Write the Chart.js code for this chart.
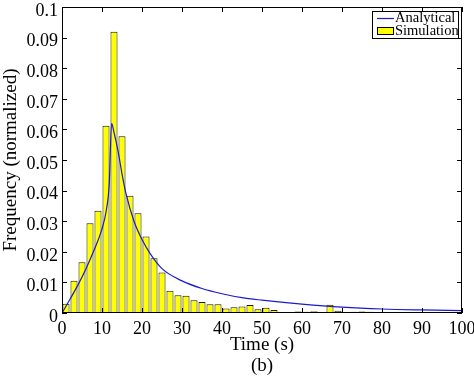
<!DOCTYPE html>
<html>
<head>
    <title>Time histogram</title>
    <style>
        body { margin: 0; background: #fff; }
        #wrap { width: 474px; height: 376px; }
    </style>
</head>
<body>
    <div id="wrap"><canvas id="histChart" width="474" height="376"></canvas></div>

    <script src="https://cdn.jsdelivr.net/npm/chart.js"></script>
    <script>
        // bin centres (s), bins are 2 s wide
        const binCenters = [1, 3, 5, 7, 9, 11, 13, 15, 17, 19, 21, 23, 25, 27, 29, 31, 33, 35, 37, 39,
            41, 43, 45, 47, 49, 51, 53, 55, 57, 59, 61, 63, 65, 67, 69, 71, 73, 75, 77, 79,
            81, 83, 85, 87, 89, 91, 93, 95, 97, 99];
        const simFreq = [0.0030, 0.0105, 0.0166, 0.0293, 0.0334, 0.0612, 0.0919, 0.0578, 0.0383, 0.0326,
            0.0250, 0.0179, 0.0132, 0.0073, 0.0058, 0.0056, 0.0042, 0.0036, 0.0029, 0.0029,
            0.0015, 0.0019, 0.0021, 0.0026, 0.0012, 0.0017, 0.0010, 0.0003, 0.0002, 0.0005,
            0.0004, 0.0006, 0.0003, 0.0027, 0.0007, 0.0003, 0.0004, 0.0005, 0.0004, 0.0002,
            0.0001, 0.0002, 0.0002, 0.0002, 0.0001, 0.0002, 0.0001, 0.0001, 0.0000, 0.0001];

        // analytical curve
        const curveT = [0, 2, 4, 6, 8, 10, 11, 11.8, 12.4, 13, 14, 15, 16, 18, 20, 22, 25, 30, 35, 40,
            45, 50, 60, 70, 80, 90, 100];
        const curveF = [0, 0.0045, 0.0092, 0.0145, 0.0205, 0.0275, 0.0330, 0.0420, 0.0620, 0.0590, 0.0530,
            0.0455, 0.0390, 0.0300, 0.0240, 0.0195, 0.0145, 0.0105, 0.0080, 0.0063,
            0.0050, 0.0042, 0.0029, 0.0019, 0.0013, 0.0010, 0.0008];

        const xTicks = [0, 10, 20, 30, 40, 50, 60, 70, 80, 90, 100];
        const yTicks = [0, 0.01, 0.02, 0.03, 0.04, 0.05, 0.06, 0.07, 0.08, 0.09, 0.1];

        const serif = "'Liberation Serif', 'Times New Roman', serif";

        // matlab style box with inward ticks + legend inside the axes
        const boxPlugin = {
            id: 'boxPlugin',
            afterDraw(chart) {
                const ctx = chart.ctx;
                const a = chart.chartArea;
                const xs = chart.scales.x, ys = chart.scales.y;
                ctx.save();
                ctx.strokeStyle = '#000';
                ctx.lineWidth = 1;
                ctx.strokeRect(a.left + 0.5, a.top + 0.5, a.right - a.left - 1, a.bottom - a.top - 1);
                ctx.beginPath();
                xTicks.forEach(v => {
                    const px = Math.round(xs.getPixelForValue(v)) + 0.5;
                    ctx.moveTo(px, a.bottom); ctx.lineTo(px, a.bottom - 5);
                    ctx.moveTo(px, a.top); ctx.lineTo(px, a.top + 5);
                });
                yTicks.forEach(v => {
                    const py = Math.round(ys.getPixelForValue(v)) + 0.5;
                    ctx.moveTo(a.left, py); ctx.lineTo(a.left + 5, py);
                    ctx.moveTo(a.right, py); ctx.lineTo(a.right - 5, py);
                });
                ctx.stroke();

                // legend
                const lx = 372, ly = 11, lw = 86, lh = 27;
                ctx.fillStyle = '#fff';
                ctx.fillRect(lx, ly, lw, lh);
                ctx.strokeRect(lx + 0.5, ly + 0.5, lw, lh);
                ctx.strokeStyle = chart.data.datasets[0].borderColor;
                ctx.lineWidth = 1.2;
                ctx.beginPath();
                ctx.moveTo(377, 18.5); ctx.lineTo(394, 18.5);
                ctx.stroke();
                ctx.fillStyle = chart.data.datasets[1].backgroundColor;
                ctx.fillRect(377, 27, 17, 8);
                ctx.strokeStyle = '#000';
                ctx.lineWidth = 1;
                ctx.strokeRect(377.5, 27.5, 16, 7);
                ctx.fillStyle = '#000';
                ctx.font = '14.5px ' + serif;
                ctx.textBaseline = 'middle';
                ctx.fillText(chart.data.datasets[0].label, 395, 18);
                ctx.fillText(chart.data.datasets[1].label, 395, 31);
                ctx.restore();
            }
        };

        const ctx = document.getElementById('histChart').getContext('2d');
        const chart = new Chart(ctx, {
            type: 'bar',
            data: {
                datasets: [
                    {
                        type: 'line',
                        label: 'Analytical',
                        data: curveT.map((t, i) => ({ x: t, y: curveF[i] })),
                        borderColor: '#1a1ad0',
                        borderWidth: 1.2,
                        pointRadius: 0,
                        cubicInterpolationMode: 'monotone',
                        order: 0
                    },
                    {
                        label: 'Simulation',
                        data: binCenters.map((c, i) => ({ x: c, y: simFreq[i] })),
                        backgroundColor: '#ffff00',
                        borderColor: '#1a1a00',
                        borderWidth: 1,
                        barPercentage: 0.88,
                        categoryPercentage: 1,
                        order: 1
                    }
                ]
            },
            options: {
                responsive: false,
                animation: false,
                layout: { padding: { left: 0, right: 12, top: 7, bottom: 0 } },
                plugins: { legend: { display: false }, tooltip: { enabled: false } },
                scales: {
                    x: {
                        type: 'linear',
                        min: 0, max: 100,
                        offset: false,
                        grid: { drawOnChartArea: false, drawTicks: false },
                        border: { display: false },
                        afterBuildTicks(s) { s.ticks = xTicks.map(v => ({ value: v })); },
                        afterFit(s) { s.height = 63; s.paddingLeft = 0; s.paddingRight = 0; },
                        ticks: { color: '#000', padding: 5, maxRotation: 0, autoSkip: false,
                            font: { family: serif, size: 18 } },
                        title: {
                            display: true,
                            text: ['Time (s)', '(b)'],
                            color: '#000',
                            padding: { top: 0, bottom: 0 },
                            font: { family: serif, size: 19, lineHeight: 1.1 }
                        }
                    },
                    y: {
                        min: 0, max: 0.1,
                        grid: { drawOnChartArea: false, drawTicks: false },
                        border: { display: false },
                        afterBuildTicks(s) { s.ticks = yTicks.map(v => ({ value: v })); },
                        afterFit(s) { s.width = 62; s.paddingTop = 0; s.paddingBottom = 0; },
                        ticks: {
                            color: '#000', padding: 4, autoSkip: false, labelOffset: 4,
                            font: { family: serif, size: 18 },
                            callback: v => String(Number(v.toFixed(2)))
                        },
                        title: {
                            display: true,
                            text: 'Frequency (normalized)',
                            color: '#000',
                            padding: { top: 0, bottom: 0 },
                            font: { family: serif, size: 19 }
                        }
                    }
                }
            },
            plugins: [boxPlugin]
        });
    </script>
</body>
</html>
